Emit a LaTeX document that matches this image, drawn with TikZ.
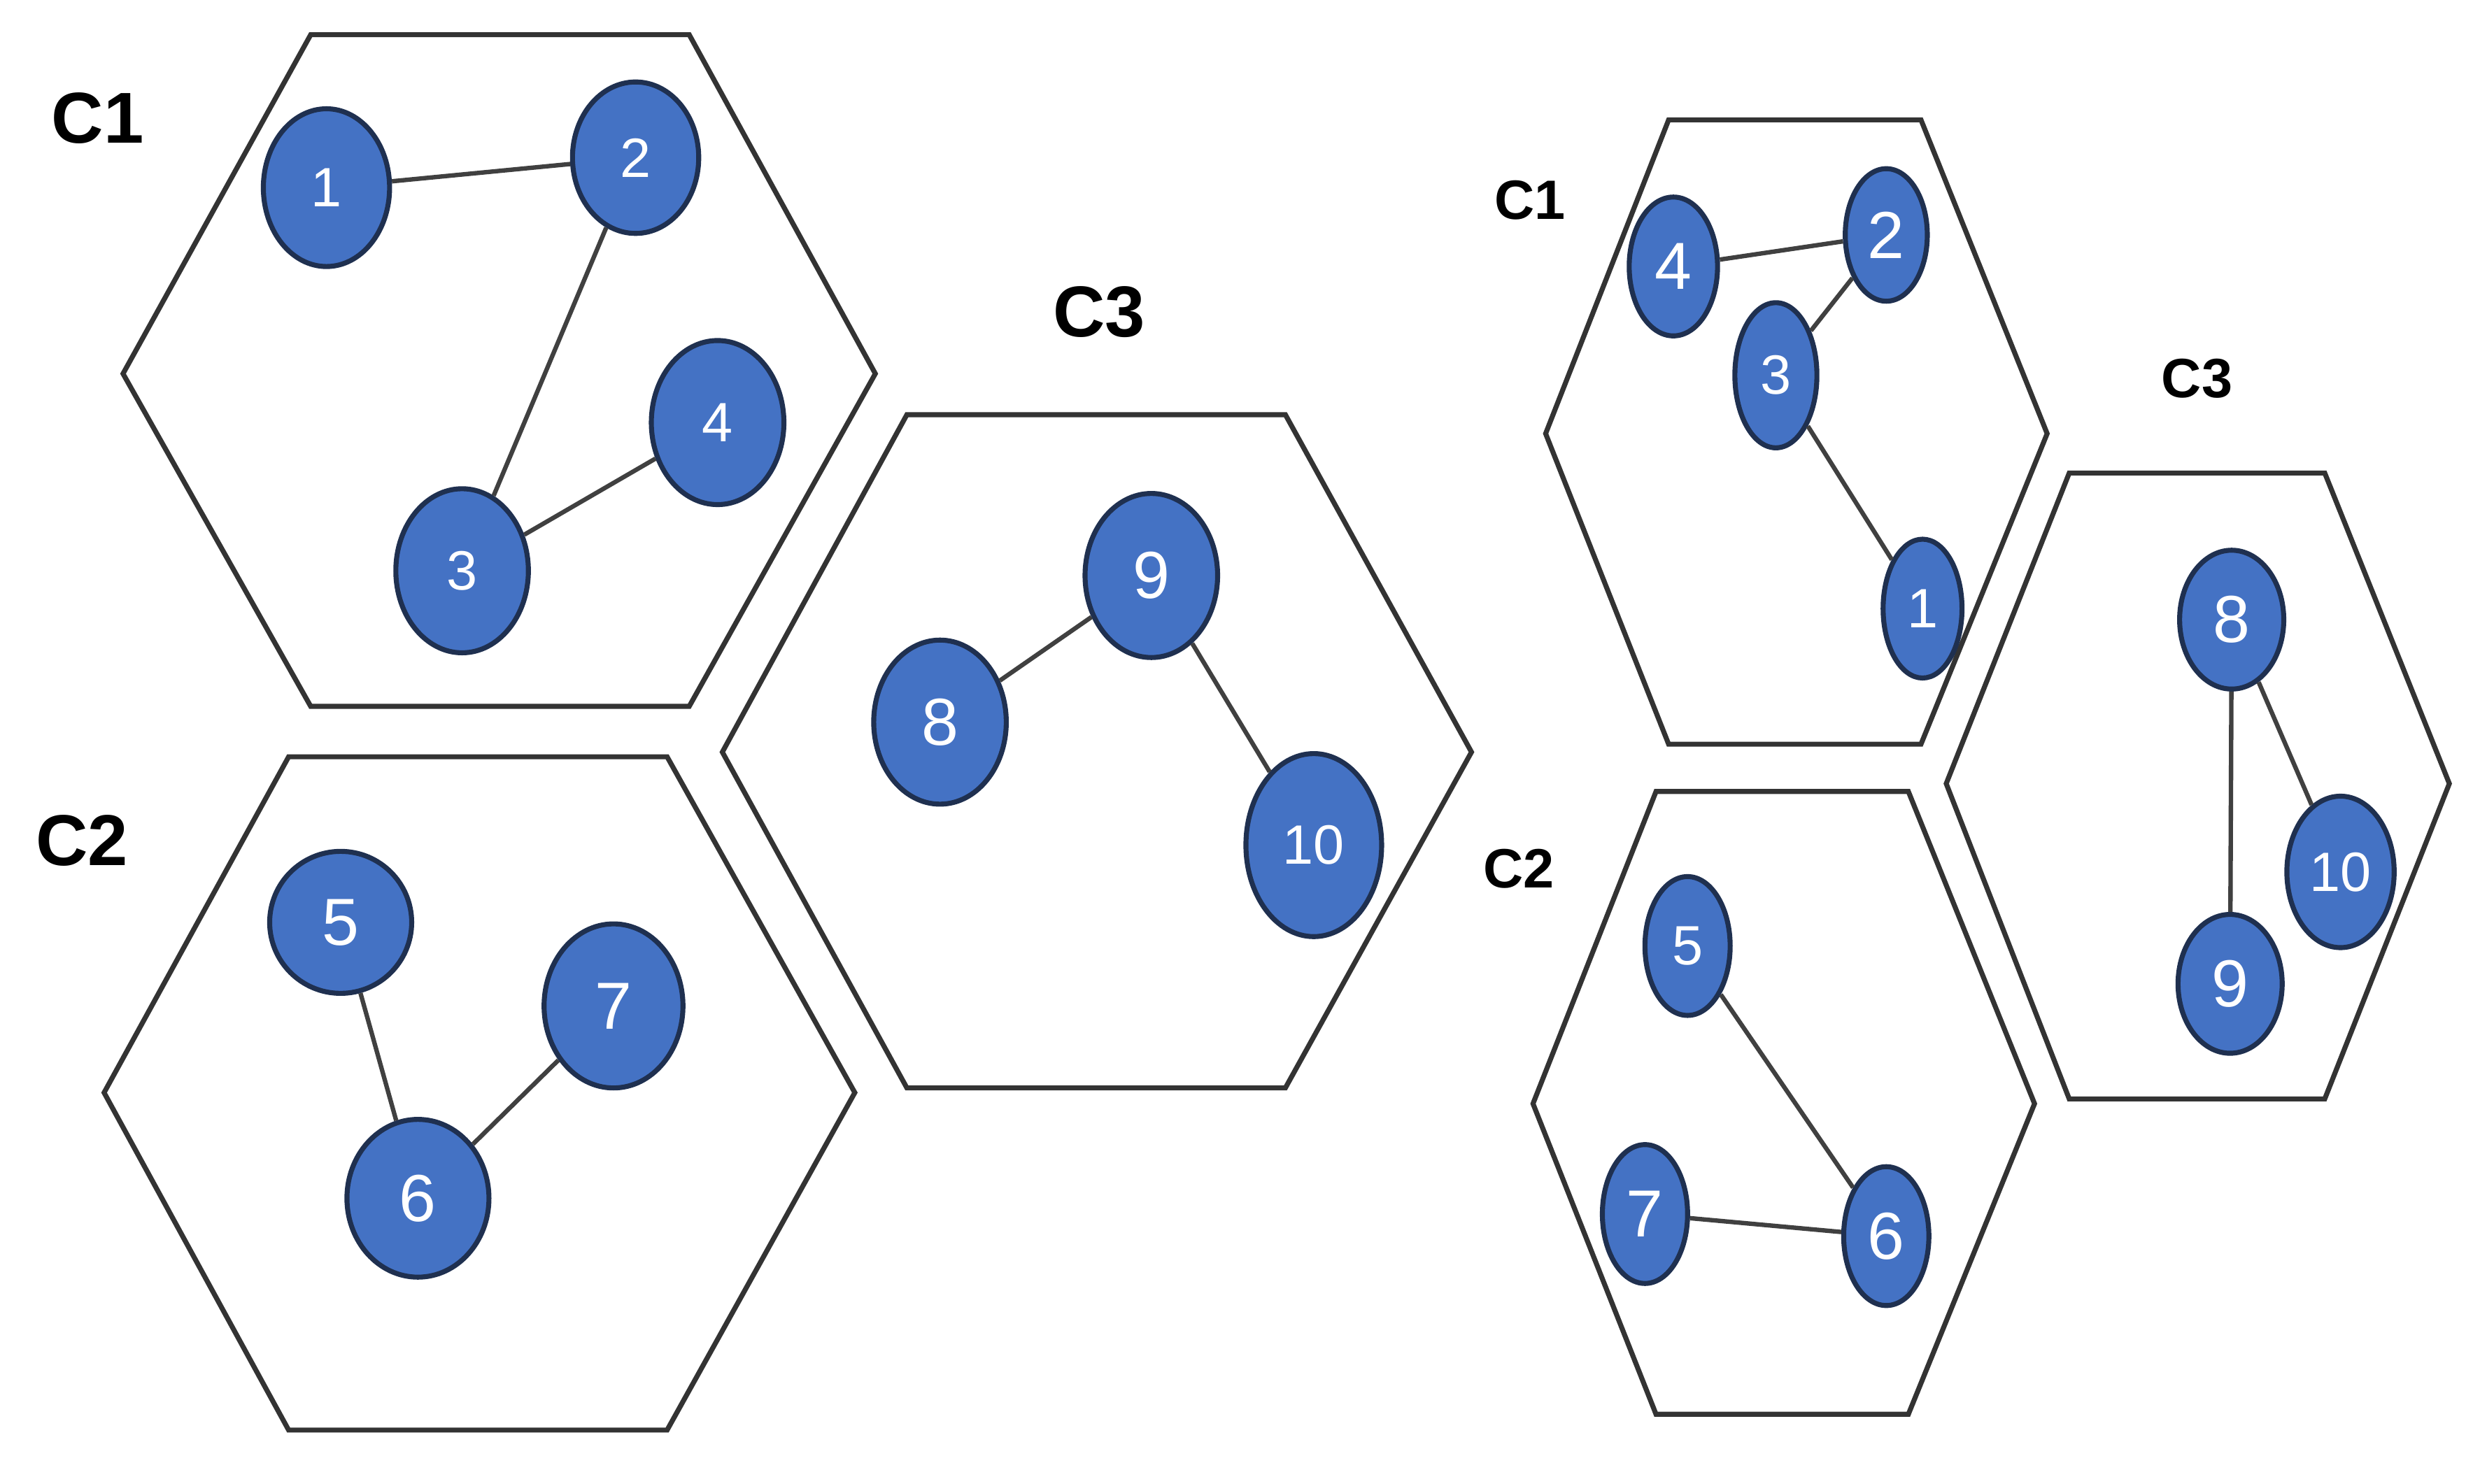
\documentclass[tikz,border=0pt]{standalone}
\usepackage{fontspec}
\setmainfont{Liberation Sans}
\usetikzlibrary{shapes.geometric}
\definecolor{nb}{HTML}{4472C4}
\definecolor{nbd}{HTML}{1F3050}
\begin{document}
\begin{tikzpicture}[x=0.01cm,y=-0.01cm,
 nd/.style={ellipse,draw=nbd,line width=0.9pt,fill=nb,text=white,inner sep=0pt,font=\fontsize{12}{12}\selectfont},
 nds/.style={nd,font=\fontsize{10}{10}\selectfont},
 hx/.style={draw=black!80,line width=0.9pt},
 lb/.style={font=\bfseries\fontsize{13}{13}\selectfont},
 lbs/.style={font=\bfseries\fontsize{10}{10}\selectfont},
 ed/.style={draw=black!75,line width=0.8pt}]
\useasboundingbox (0,0) rectangle (1568,941);
% hexagons
\draw[hx] (197,22)--(437,22)--(555,237)--(437,448)--(197,448)--(78,237)--cycle;
\draw[hx] (183,480)--(423,480)--(542,693)--(423,907)--(183,907)--(66,693)--cycle;
\draw[hx] (575,263)--(815,263)--(933,477)--(815,690)--(575,690)--(458,477)--cycle;
\draw[hx] (1058,76)--(1218,76)--(1298,275)--(1218,472)--(1058,472)--(980,275)--cycle;
\draw[hx] (1050,502)--(1210,502)--(1290,700)--(1210,897)--(1050,897)--(972,700)--cycle;
\draw[hx] (1312,300)--(1474,300)--(1553,497)--(1474,697)--(1312,697)--(1234,497)--cycle;
% labels
\node[lb] (lc1) at (62,75) {C1};
\node[lb] (lc2) at (52,533) {C2};
\node[lb] (lc3) at (697,198) {C3};
\node[lbs] (rc1) at (970,127) {C1};
\node[lbs] (rc2) at (963,551) {C2};
\node[lbs] (rc3) at (1393,240) {C3};
% left nodes
\node[nds,minimum width=0.8cm,minimum height=1.0cm] (a1) at (207,119) {1};
\node[nds,minimum width=0.8cm,minimum height=0.96cm] (a2) at (403,100) {2};
\node[nds,minimum width=0.84cm,minimum height=1.04cm] (a3) at (293,362) {3};
\node[nds,minimum width=0.84cm,minimum height=1.04cm] (a4) at (455,268) {4};
\node[nd,minimum width=0.9cm,minimum height=0.9cm] (a5) at (216,585) {5};
\node[nd,minimum width=0.88cm,minimum height=1.04cm] (a7) at (389,638) {7};
\node[nd,minimum width=0.9cm,minimum height=1.0cm] (a6) at (265,760) {6};
\node[nd,minimum width=0.84cm,minimum height=1.04cm] (a9) at (730,365) {9};
\node[nd,minimum width=0.84cm,minimum height=1.04cm] (a8) at (596,458) {8};
\node[nds,minimum width=0.86cm,minimum height=1.16cm] (a10) at (833,536) {10};
% right nodes
\node[nd,minimum width=0.56cm,minimum height=0.88cm] (b4) at (1061,169) {4};
\node[nd,minimum width=0.52cm,minimum height=0.84cm] (b2) at (1196,149) {2};
\node[nds,minimum width=0.52cm,minimum height=0.92cm] (b3) at (1126,238) {3};
\node[nds,minimum width=0.5cm,minimum height=0.88cm] (b1) at (1219,386) {1};
\node[nds,minimum width=0.54cm,minimum height=0.88cm] (b5) at (1070,600) {5};
\node[nd,minimum width=0.54cm,minimum height=0.88cm] (b7) at (1043,770) {7};
\node[nd,minimum width=0.54cm,minimum height=0.88cm] (b6) at (1196,784) {6};
\node[nd,minimum width=0.66cm,minimum height=0.88cm] (b8) at (1415,393) {8};
\node[nds,minimum width=0.68cm,minimum height=0.96cm] (b10) at (1484,553) {10};
\node[nd,minimum width=0.66cm,minimum height=0.88cm] (b9) at (1414,624) {9};
% edges
\draw[ed] (a1)--(a2); \draw[ed] (a2)--(a3); \draw[ed] (a3)--(a4);
\draw[ed] (a5)--(a6); \draw[ed] (a6)--(a7);
\draw[ed] (a8)--(a9); \draw[ed] (a9)--(a10);
\draw[ed] (b4)--(b2); \draw[ed] (b3)--(b2); \draw[ed] (b3)--(b1);
\draw[ed] (b5)--(b6); \draw[ed] (b7)--(b6);
\draw[ed] (b8)--(b9); \draw[ed] (b8)--(b10);
\end{tikzpicture}
\end{document}
